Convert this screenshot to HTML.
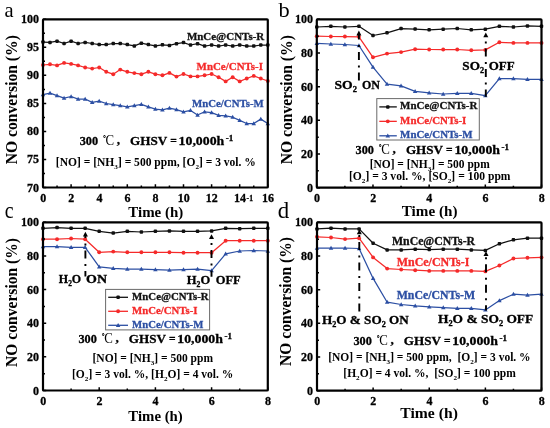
<!DOCTYPE html>
<html><head><meta charset="utf-8"><title>NO conversion figure</title><style>
html,body{margin:0;padding:0;background:#fff;width:550px;height:428px;overflow:hidden}
svg{display:block;filter:blur(0.35px)}
text{font-family:"Liberation Serif", serif;white-space:pre}
</style></head><body>
<svg width="550" height="428" viewBox="0 0 550 428">
<rect width="550" height="428" fill="#fff"/>
<path d="M43.00 42.10 L50.02 42.40 L57.05 41.20 L64.08 43.50 L71.10 41.20 L78.12 43.50 L85.15 42.40 L92.18 43.50 L99.20 44.60 L106.22 44.60 L113.25 43.50 L120.28 43.50 L127.30 44.60 L134.32 45.90 L141.35 43.20 L148.38 44.60 L155.40 45.90 L162.43 44.80 L169.45 45.40 L176.47 43.70 L183.50 42.60 L190.53 45.00 L197.55 43.70 L204.58 46.10 L211.60 45.00 L218.62 46.10 L225.65 45.00 L232.68 46.10 L239.70 45.00 L246.73 46.10 L253.75 46.10 L260.77 45.00 L267.80 45.00" fill="none" stroke="#111111" stroke-width="1.25" stroke-linejoin="round"/>
<rect x="41.25" y="40.35" width="3.50" height="3.50" rx="1.00" fill="#111111"/>
<rect x="48.27" y="40.65" width="3.50" height="3.50" rx="1.00" fill="#111111"/>
<rect x="55.30" y="39.45" width="3.50" height="3.50" rx="1.00" fill="#111111"/>
<rect x="62.33" y="41.75" width="3.50" height="3.50" rx="1.00" fill="#111111"/>
<rect x="69.35" y="39.45" width="3.50" height="3.50" rx="1.00" fill="#111111"/>
<rect x="76.38" y="41.75" width="3.50" height="3.50" rx="1.00" fill="#111111"/>
<rect x="83.40" y="40.65" width="3.50" height="3.50" rx="1.00" fill="#111111"/>
<rect x="90.43" y="41.75" width="3.50" height="3.50" rx="1.00" fill="#111111"/>
<rect x="97.45" y="42.85" width="3.50" height="3.50" rx="1.00" fill="#111111"/>
<rect x="104.47" y="42.85" width="3.50" height="3.50" rx="1.00" fill="#111111"/>
<rect x="111.50" y="41.75" width="3.50" height="3.50" rx="1.00" fill="#111111"/>
<rect x="118.53" y="41.75" width="3.50" height="3.50" rx="1.00" fill="#111111"/>
<rect x="125.55" y="42.85" width="3.50" height="3.50" rx="1.00" fill="#111111"/>
<rect x="132.57" y="44.15" width="3.50" height="3.50" rx="1.00" fill="#111111"/>
<rect x="139.60" y="41.45" width="3.50" height="3.50" rx="1.00" fill="#111111"/>
<rect x="146.62" y="42.85" width="3.50" height="3.50" rx="1.00" fill="#111111"/>
<rect x="153.65" y="44.15" width="3.50" height="3.50" rx="1.00" fill="#111111"/>
<rect x="160.68" y="43.05" width="3.50" height="3.50" rx="1.00" fill="#111111"/>
<rect x="167.70" y="43.65" width="3.50" height="3.50" rx="1.00" fill="#111111"/>
<rect x="174.72" y="41.95" width="3.50" height="3.50" rx="1.00" fill="#111111"/>
<rect x="181.75" y="40.85" width="3.50" height="3.50" rx="1.00" fill="#111111"/>
<rect x="188.78" y="43.25" width="3.50" height="3.50" rx="1.00" fill="#111111"/>
<rect x="195.80" y="41.95" width="3.50" height="3.50" rx="1.00" fill="#111111"/>
<rect x="202.83" y="44.35" width="3.50" height="3.50" rx="1.00" fill="#111111"/>
<rect x="209.85" y="43.25" width="3.50" height="3.50" rx="1.00" fill="#111111"/>
<rect x="216.88" y="44.35" width="3.50" height="3.50" rx="1.00" fill="#111111"/>
<rect x="223.90" y="43.25" width="3.50" height="3.50" rx="1.00" fill="#111111"/>
<rect x="230.93" y="44.35" width="3.50" height="3.50" rx="1.00" fill="#111111"/>
<rect x="237.95" y="43.25" width="3.50" height="3.50" rx="1.00" fill="#111111"/>
<rect x="244.98" y="44.35" width="3.50" height="3.50" rx="1.00" fill="#111111"/>
<rect x="252.00" y="44.35" width="3.50" height="3.50" rx="1.00" fill="#111111"/>
<rect x="259.02" y="43.25" width="3.50" height="3.50" rx="1.00" fill="#111111"/>
<rect x="266.05" y="43.25" width="3.50" height="3.50" rx="1.00" fill="#111111"/>
<path d="M43.00 65.00 L50.02 64.30 L57.05 65.40 L64.08 62.90 L71.10 63.90 L78.12 65.40 L85.15 67.50 L92.18 68.60 L99.20 67.50 L106.22 71.80 L113.25 74.20 L120.28 69.60 L127.30 71.80 L134.32 73.10 L141.35 74.20 L148.38 71.80 L155.40 74.20 L162.43 75.30 L169.45 72.90 L176.47 76.60 L183.50 74.00 L190.53 76.40 L197.55 76.40 L204.58 75.30 L211.60 74.00 L218.62 77.20 L225.65 81.40 L232.68 77.20 L239.70 81.40 L246.73 78.50 L253.75 75.90 L260.77 78.50 L267.80 81.00" fill="none" stroke="#f52a2a" stroke-width="1.25" stroke-linejoin="round"/>
<circle cx="43.00" cy="65.00" r="1.95" fill="#f52a2a"/>
<circle cx="50.02" cy="64.30" r="1.95" fill="#f52a2a"/>
<circle cx="57.05" cy="65.40" r="1.95" fill="#f52a2a"/>
<circle cx="64.08" cy="62.90" r="1.95" fill="#f52a2a"/>
<circle cx="71.10" cy="63.90" r="1.95" fill="#f52a2a"/>
<circle cx="78.12" cy="65.40" r="1.95" fill="#f52a2a"/>
<circle cx="85.15" cy="67.50" r="1.95" fill="#f52a2a"/>
<circle cx="92.18" cy="68.60" r="1.95" fill="#f52a2a"/>
<circle cx="99.20" cy="67.50" r="1.95" fill="#f52a2a"/>
<circle cx="106.22" cy="71.80" r="1.95" fill="#f52a2a"/>
<circle cx="113.25" cy="74.20" r="1.95" fill="#f52a2a"/>
<circle cx="120.28" cy="69.60" r="1.95" fill="#f52a2a"/>
<circle cx="127.30" cy="71.80" r="1.95" fill="#f52a2a"/>
<circle cx="134.32" cy="73.10" r="1.95" fill="#f52a2a"/>
<circle cx="141.35" cy="74.20" r="1.95" fill="#f52a2a"/>
<circle cx="148.38" cy="71.80" r="1.95" fill="#f52a2a"/>
<circle cx="155.40" cy="74.20" r="1.95" fill="#f52a2a"/>
<circle cx="162.43" cy="75.30" r="1.95" fill="#f52a2a"/>
<circle cx="169.45" cy="72.90" r="1.95" fill="#f52a2a"/>
<circle cx="176.47" cy="76.60" r="1.95" fill="#f52a2a"/>
<circle cx="183.50" cy="74.00" r="1.95" fill="#f52a2a"/>
<circle cx="190.53" cy="76.40" r="1.95" fill="#f52a2a"/>
<circle cx="197.55" cy="76.40" r="1.95" fill="#f52a2a"/>
<circle cx="204.58" cy="75.30" r="1.95" fill="#f52a2a"/>
<circle cx="211.60" cy="74.00" r="1.95" fill="#f52a2a"/>
<circle cx="218.62" cy="77.20" r="1.95" fill="#f52a2a"/>
<circle cx="225.65" cy="81.40" r="1.95" fill="#f52a2a"/>
<circle cx="232.68" cy="77.20" r="1.95" fill="#f52a2a"/>
<circle cx="239.70" cy="81.40" r="1.95" fill="#f52a2a"/>
<circle cx="246.73" cy="78.50" r="1.95" fill="#f52a2a"/>
<circle cx="253.75" cy="75.90" r="1.95" fill="#f52a2a"/>
<circle cx="260.77" cy="78.50" r="1.95" fill="#f52a2a"/>
<circle cx="267.80" cy="81.00" r="1.95" fill="#f52a2a"/>
<path d="M43.00 94.60 L50.02 93.20 L57.05 95.70 L64.08 98.10 L71.10 96.50 L78.12 99.20 L85.15 99.00 L92.18 102.40 L99.20 101.20 L106.22 103.50 L113.25 104.60 L120.28 105.70 L127.30 106.80 L134.32 105.70 L141.35 104.30 L148.38 106.80 L155.40 109.20 L162.43 109.80 L169.45 108.20 L176.47 109.60 L183.50 111.80 L190.53 110.40 L197.55 115.00 L204.58 111.80 L211.60 112.70 L218.62 115.30 L225.65 115.90 L232.68 117.20 L239.70 120.40 L246.73 123.50 L253.75 123.50 L260.77 119.10 L267.80 123.50" fill="none" stroke="#2c4fa3" stroke-width="1.25" stroke-linejoin="round"/>
<path d="M40.76 96.26 L43.00 92.26 L45.24 96.26Z" fill="#2c4fa3"/>
<path d="M47.78 94.86 L50.02 90.86 L52.27 94.86Z" fill="#2c4fa3"/>
<path d="M54.81 97.36 L57.05 93.36 L59.29 97.36Z" fill="#2c4fa3"/>
<path d="M61.83 99.76 L64.08 95.76 L66.32 99.76Z" fill="#2c4fa3"/>
<path d="M68.86 98.16 L71.10 94.16 L73.34 98.16Z" fill="#2c4fa3"/>
<path d="M75.88 100.86 L78.12 96.86 L80.37 100.86Z" fill="#2c4fa3"/>
<path d="M82.91 100.66 L85.15 96.66 L87.39 100.66Z" fill="#2c4fa3"/>
<path d="M89.93 104.06 L92.18 100.06 L94.42 104.06Z" fill="#2c4fa3"/>
<path d="M96.96 102.86 L99.20 98.86 L101.44 102.86Z" fill="#2c4fa3"/>
<path d="M103.98 105.16 L106.22 101.16 L108.47 105.16Z" fill="#2c4fa3"/>
<path d="M111.01 106.26 L113.25 102.26 L115.49 106.26Z" fill="#2c4fa3"/>
<path d="M118.03 107.36 L120.28 103.36 L122.52 107.36Z" fill="#2c4fa3"/>
<path d="M125.06 108.46 L127.30 104.46 L129.54 108.46Z" fill="#2c4fa3"/>
<path d="M132.08 107.36 L134.32 103.36 L136.57 107.36Z" fill="#2c4fa3"/>
<path d="M139.11 105.96 L141.35 101.96 L143.59 105.96Z" fill="#2c4fa3"/>
<path d="M146.13 108.46 L148.38 104.46 L150.62 108.46Z" fill="#2c4fa3"/>
<path d="M153.16 110.86 L155.40 106.86 L157.64 110.86Z" fill="#2c4fa3"/>
<path d="M160.18 111.46 L162.43 107.46 L164.67 111.46Z" fill="#2c4fa3"/>
<path d="M167.21 109.86 L169.45 105.86 L171.69 109.86Z" fill="#2c4fa3"/>
<path d="M174.23 111.26 L176.47 107.26 L178.72 111.26Z" fill="#2c4fa3"/>
<path d="M181.26 113.46 L183.50 109.46 L185.74 113.46Z" fill="#2c4fa3"/>
<path d="M188.28 112.06 L190.53 108.06 L192.77 112.06Z" fill="#2c4fa3"/>
<path d="M195.31 116.66 L197.55 112.66 L199.79 116.66Z" fill="#2c4fa3"/>
<path d="M202.33 113.46 L204.58 109.46 L206.82 113.46Z" fill="#2c4fa3"/>
<path d="M209.36 114.36 L211.60 110.36 L213.84 114.36Z" fill="#2c4fa3"/>
<path d="M216.38 116.96 L218.62 112.96 L220.87 116.96Z" fill="#2c4fa3"/>
<path d="M223.41 117.56 L225.65 113.56 L227.89 117.56Z" fill="#2c4fa3"/>
<path d="M230.43 118.86 L232.68 114.86 L234.92 118.86Z" fill="#2c4fa3"/>
<path d="M237.46 122.06 L239.70 118.06 L241.94 122.06Z" fill="#2c4fa3"/>
<path d="M244.48 125.16 L246.73 121.16 L248.97 125.16Z" fill="#2c4fa3"/>
<path d="M251.51 125.16 L253.75 121.16 L255.99 125.16Z" fill="#2c4fa3"/>
<path d="M258.53 120.76 L260.77 116.76 L263.02 120.76Z" fill="#2c4fa3"/>
<path d="M265.56 125.16 L267.80 121.16 L270.04 125.16Z" fill="#2c4fa3"/>
<path d="M316.80 27.00 L330.84 26.30 L344.89 27.00 L358.93 26.30 L372.98 35.50 L387.02 32.80 L401.06 28.60 L415.11 29.10 L429.15 29.80 L443.19 29.20 L457.24 28.50 L471.28 29.80 L485.32 29.20 L499.37 26.30 L513.41 27.00 L527.46 25.90 L541.50 26.30" fill="none" stroke="#111111" stroke-width="1.25" stroke-linejoin="round"/>
<rect x="315.05" y="25.25" width="3.50" height="3.50" rx="1.00" fill="#111111"/>
<rect x="329.09" y="24.55" width="3.50" height="3.50" rx="1.00" fill="#111111"/>
<rect x="343.14" y="25.25" width="3.50" height="3.50" rx="1.00" fill="#111111"/>
<rect x="357.18" y="24.55" width="3.50" height="3.50" rx="1.00" fill="#111111"/>
<rect x="371.23" y="33.75" width="3.50" height="3.50" rx="1.00" fill="#111111"/>
<rect x="385.27" y="31.05" width="3.50" height="3.50" rx="1.00" fill="#111111"/>
<rect x="399.31" y="26.85" width="3.50" height="3.50" rx="1.00" fill="#111111"/>
<rect x="413.36" y="27.35" width="3.50" height="3.50" rx="1.00" fill="#111111"/>
<rect x="427.40" y="28.05" width="3.50" height="3.50" rx="1.00" fill="#111111"/>
<rect x="441.44" y="27.45" width="3.50" height="3.50" rx="1.00" fill="#111111"/>
<rect x="455.49" y="26.75" width="3.50" height="3.50" rx="1.00" fill="#111111"/>
<rect x="469.53" y="28.05" width="3.50" height="3.50" rx="1.00" fill="#111111"/>
<rect x="483.57" y="27.45" width="3.50" height="3.50" rx="1.00" fill="#111111"/>
<rect x="497.62" y="24.55" width="3.50" height="3.50" rx="1.00" fill="#111111"/>
<rect x="511.66" y="25.25" width="3.50" height="3.50" rx="1.00" fill="#111111"/>
<rect x="525.71" y="24.15" width="3.50" height="3.50" rx="1.00" fill="#111111"/>
<rect x="539.75" y="24.55" width="3.50" height="3.50" rx="1.00" fill="#111111"/>
<path d="M316.80 36.20 L330.84 36.50 L344.89 36.50 L358.93 36.80 L372.98 57.30 L387.02 53.60 L401.06 52.10 L415.11 49.20 L429.15 49.50 L443.19 49.50 L457.24 49.50 L471.28 50.30 L485.32 49.90 L499.37 42.30 L513.41 42.90 L527.46 42.90 L541.50 42.90" fill="none" stroke="#f52a2a" stroke-width="1.25" stroke-linejoin="round"/>
<circle cx="316.80" cy="36.20" r="1.95" fill="#f52a2a"/>
<circle cx="330.84" cy="36.50" r="1.95" fill="#f52a2a"/>
<circle cx="344.89" cy="36.50" r="1.95" fill="#f52a2a"/>
<circle cx="358.93" cy="36.80" r="1.95" fill="#f52a2a"/>
<circle cx="372.98" cy="57.30" r="1.95" fill="#f52a2a"/>
<circle cx="387.02" cy="53.60" r="1.95" fill="#f52a2a"/>
<circle cx="401.06" cy="52.10" r="1.95" fill="#f52a2a"/>
<circle cx="415.11" cy="49.20" r="1.95" fill="#f52a2a"/>
<circle cx="429.15" cy="49.50" r="1.95" fill="#f52a2a"/>
<circle cx="443.19" cy="49.50" r="1.95" fill="#f52a2a"/>
<circle cx="457.24" cy="49.50" r="1.95" fill="#f52a2a"/>
<circle cx="471.28" cy="50.30" r="1.95" fill="#f52a2a"/>
<circle cx="485.32" cy="49.90" r="1.95" fill="#f52a2a"/>
<circle cx="499.37" cy="42.30" r="1.95" fill="#f52a2a"/>
<circle cx="513.41" cy="42.90" r="1.95" fill="#f52a2a"/>
<circle cx="527.46" cy="42.90" r="1.95" fill="#f52a2a"/>
<circle cx="541.50" cy="42.90" r="1.95" fill="#f52a2a"/>
<path d="M316.80 43.40 L330.84 44.00 L344.89 44.50 L358.93 45.50 L372.98 67.10 L387.02 84.20 L401.06 85.80 L415.11 91.40 L429.15 92.90 L443.19 94.00 L457.24 93.30 L471.28 93.30 L485.32 95.60 L499.37 78.70 L513.41 78.70 L527.46 79.40 L541.50 79.40" fill="none" stroke="#2c4fa3" stroke-width="1.25" stroke-linejoin="round"/>
<path d="M314.56 45.06 L316.80 41.06 L319.04 45.06Z" fill="#2c4fa3"/>
<path d="M328.60 45.66 L330.84 41.66 L333.09 45.66Z" fill="#2c4fa3"/>
<path d="M342.64 46.16 L344.89 42.16 L347.13 46.16Z" fill="#2c4fa3"/>
<path d="M356.69 47.16 L358.93 43.16 L361.17 47.16Z" fill="#2c4fa3"/>
<path d="M370.73 68.76 L372.98 64.76 L375.22 68.76Z" fill="#2c4fa3"/>
<path d="M384.78 85.86 L387.02 81.86 L389.26 85.86Z" fill="#2c4fa3"/>
<path d="M398.82 87.46 L401.06 83.46 L403.31 87.46Z" fill="#2c4fa3"/>
<path d="M412.86 93.06 L415.11 89.06 L417.35 93.06Z" fill="#2c4fa3"/>
<path d="M426.91 94.56 L429.15 90.56 L431.39 94.56Z" fill="#2c4fa3"/>
<path d="M440.95 95.66 L443.19 91.66 L445.44 95.66Z" fill="#2c4fa3"/>
<path d="M455.00 94.96 L457.24 90.96 L459.48 94.96Z" fill="#2c4fa3"/>
<path d="M469.04 94.96 L471.28 90.96 L473.52 94.96Z" fill="#2c4fa3"/>
<path d="M483.08 97.26 L485.32 93.26 L487.57 97.26Z" fill="#2c4fa3"/>
<path d="M497.13 80.36 L499.37 76.36 L501.61 80.36Z" fill="#2c4fa3"/>
<path d="M511.17 80.36 L513.41 76.36 L515.65 80.36Z" fill="#2c4fa3"/>
<path d="M525.21 81.06 L527.46 77.06 L529.70 81.06Z" fill="#2c4fa3"/>
<path d="M539.26 81.06 L541.50 77.06 L543.74 81.06Z" fill="#2c4fa3"/>
<path d="M43.00 228.30 L57.05 227.60 L71.10 228.30 L85.15 228.30 L99.20 231.30 L113.25 233.10 L127.30 231.30 L141.35 232.00 L155.40 231.30 L169.45 230.90 L183.50 231.30 L197.55 231.30 L211.60 230.90 L225.65 228.30 L239.70 228.70 L253.75 228.30 L267.80 228.30" fill="none" stroke="#111111" stroke-width="1.25" stroke-linejoin="round"/>
<rect x="41.25" y="226.55" width="3.50" height="3.50" rx="1.00" fill="#111111"/>
<rect x="55.30" y="225.85" width="3.50" height="3.50" rx="1.00" fill="#111111"/>
<rect x="69.35" y="226.55" width="3.50" height="3.50" rx="1.00" fill="#111111"/>
<rect x="83.40" y="226.55" width="3.50" height="3.50" rx="1.00" fill="#111111"/>
<rect x="97.45" y="229.55" width="3.50" height="3.50" rx="1.00" fill="#111111"/>
<rect x="111.50" y="231.35" width="3.50" height="3.50" rx="1.00" fill="#111111"/>
<rect x="125.55" y="229.55" width="3.50" height="3.50" rx="1.00" fill="#111111"/>
<rect x="139.60" y="230.25" width="3.50" height="3.50" rx="1.00" fill="#111111"/>
<rect x="153.65" y="229.55" width="3.50" height="3.50" rx="1.00" fill="#111111"/>
<rect x="167.70" y="229.15" width="3.50" height="3.50" rx="1.00" fill="#111111"/>
<rect x="181.75" y="229.55" width="3.50" height="3.50" rx="1.00" fill="#111111"/>
<rect x="195.80" y="229.55" width="3.50" height="3.50" rx="1.00" fill="#111111"/>
<rect x="209.85" y="229.15" width="3.50" height="3.50" rx="1.00" fill="#111111"/>
<rect x="223.90" y="226.55" width="3.50" height="3.50" rx="1.00" fill="#111111"/>
<rect x="237.95" y="226.95" width="3.50" height="3.50" rx="1.00" fill="#111111"/>
<rect x="252.00" y="226.55" width="3.50" height="3.50" rx="1.00" fill="#111111"/>
<rect x="266.05" y="226.55" width="3.50" height="3.50" rx="1.00" fill="#111111"/>
<path d="M43.00 239.20 L57.05 239.20 L71.10 238.50 L85.15 239.20 L99.20 252.30 L113.25 251.60 L127.30 252.30 L141.35 252.30 L155.40 252.30 L169.45 252.30 L183.50 252.70 L197.55 252.70 L211.60 252.70 L225.65 240.70 L239.70 240.70 L253.75 240.70 L267.80 240.70" fill="none" stroke="#f52a2a" stroke-width="1.25" stroke-linejoin="round"/>
<circle cx="43.00" cy="239.20" r="1.95" fill="#f52a2a"/>
<circle cx="57.05" cy="239.20" r="1.95" fill="#f52a2a"/>
<circle cx="71.10" cy="238.50" r="1.95" fill="#f52a2a"/>
<circle cx="85.15" cy="239.20" r="1.95" fill="#f52a2a"/>
<circle cx="99.20" cy="252.30" r="1.95" fill="#f52a2a"/>
<circle cx="113.25" cy="251.60" r="1.95" fill="#f52a2a"/>
<circle cx="127.30" cy="252.30" r="1.95" fill="#f52a2a"/>
<circle cx="141.35" cy="252.30" r="1.95" fill="#f52a2a"/>
<circle cx="155.40" cy="252.30" r="1.95" fill="#f52a2a"/>
<circle cx="169.45" cy="252.30" r="1.95" fill="#f52a2a"/>
<circle cx="183.50" cy="252.70" r="1.95" fill="#f52a2a"/>
<circle cx="197.55" cy="252.70" r="1.95" fill="#f52a2a"/>
<circle cx="211.60" cy="252.70" r="1.95" fill="#f52a2a"/>
<circle cx="225.65" cy="240.70" r="1.95" fill="#f52a2a"/>
<circle cx="239.70" cy="240.70" r="1.95" fill="#f52a2a"/>
<circle cx="253.75" cy="240.70" r="1.95" fill="#f52a2a"/>
<circle cx="267.80" cy="240.70" r="1.95" fill="#f52a2a"/>
<path d="M43.00 246.60 L57.05 246.60 L71.10 247.30 L85.15 247.30 L99.20 266.90 L113.25 268.40 L127.30 269.10 L141.35 269.10 L155.40 269.70 L169.45 270.20 L183.50 269.70 L197.55 269.10 L211.60 270.60 L225.65 253.80 L239.70 251.00 L253.75 250.50 L267.80 251.00" fill="none" stroke="#2c4fa3" stroke-width="1.25" stroke-linejoin="round"/>
<path d="M40.76 248.26 L43.00 244.26 L45.24 248.26Z" fill="#2c4fa3"/>
<path d="M54.81 248.26 L57.05 244.26 L59.29 248.26Z" fill="#2c4fa3"/>
<path d="M68.86 248.96 L71.10 244.96 L73.34 248.96Z" fill="#2c4fa3"/>
<path d="M82.91 248.96 L85.15 244.96 L87.39 248.96Z" fill="#2c4fa3"/>
<path d="M96.96 268.56 L99.20 264.56 L101.44 268.56Z" fill="#2c4fa3"/>
<path d="M111.01 270.06 L113.25 266.06 L115.49 270.06Z" fill="#2c4fa3"/>
<path d="M125.06 270.76 L127.30 266.76 L129.54 270.76Z" fill="#2c4fa3"/>
<path d="M139.11 270.76 L141.35 266.76 L143.59 270.76Z" fill="#2c4fa3"/>
<path d="M153.16 271.36 L155.40 267.36 L157.64 271.36Z" fill="#2c4fa3"/>
<path d="M167.21 271.86 L169.45 267.86 L171.69 271.86Z" fill="#2c4fa3"/>
<path d="M181.26 271.36 L183.50 267.36 L185.74 271.36Z" fill="#2c4fa3"/>
<path d="M195.31 270.76 L197.55 266.76 L199.79 270.76Z" fill="#2c4fa3"/>
<path d="M209.36 272.26 L211.60 268.26 L213.84 272.26Z" fill="#2c4fa3"/>
<path d="M223.41 255.46 L225.65 251.46 L227.89 255.46Z" fill="#2c4fa3"/>
<path d="M237.46 252.66 L239.70 248.66 L241.94 252.66Z" fill="#2c4fa3"/>
<path d="M251.51 252.16 L253.75 248.16 L255.99 252.16Z" fill="#2c4fa3"/>
<path d="M265.56 252.66 L267.80 248.66 L270.04 252.66Z" fill="#2c4fa3"/>
<path d="M317.00 228.90 L331.03 228.20 L345.06 228.90 L359.09 228.90 L373.12 243.30 L387.16 249.90 L401.19 249.90 L415.22 249.20 L429.25 249.60 L443.28 249.20 L457.31 249.20 L471.34 249.90 L485.38 250.40 L499.41 243.80 L513.44 239.80 L527.47 238.20 L541.50 238.20" fill="none" stroke="#111111" stroke-width="1.25" stroke-linejoin="round"/>
<rect x="315.25" y="227.15" width="3.50" height="3.50" rx="1.00" fill="#111111"/>
<rect x="329.28" y="226.45" width="3.50" height="3.50" rx="1.00" fill="#111111"/>
<rect x="343.31" y="227.15" width="3.50" height="3.50" rx="1.00" fill="#111111"/>
<rect x="357.34" y="227.15" width="3.50" height="3.50" rx="1.00" fill="#111111"/>
<rect x="371.38" y="241.55" width="3.50" height="3.50" rx="1.00" fill="#111111"/>
<rect x="385.41" y="248.15" width="3.50" height="3.50" rx="1.00" fill="#111111"/>
<rect x="399.44" y="248.15" width="3.50" height="3.50" rx="1.00" fill="#111111"/>
<rect x="413.47" y="247.45" width="3.50" height="3.50" rx="1.00" fill="#111111"/>
<rect x="427.50" y="247.85" width="3.50" height="3.50" rx="1.00" fill="#111111"/>
<rect x="441.53" y="247.45" width="3.50" height="3.50" rx="1.00" fill="#111111"/>
<rect x="455.56" y="247.45" width="3.50" height="3.50" rx="1.00" fill="#111111"/>
<rect x="469.59" y="248.15" width="3.50" height="3.50" rx="1.00" fill="#111111"/>
<rect x="483.62" y="248.65" width="3.50" height="3.50" rx="1.00" fill="#111111"/>
<rect x="497.66" y="242.05" width="3.50" height="3.50" rx="1.00" fill="#111111"/>
<rect x="511.69" y="238.05" width="3.50" height="3.50" rx="1.00" fill="#111111"/>
<rect x="525.72" y="236.45" width="3.50" height="3.50" rx="1.00" fill="#111111"/>
<rect x="539.75" y="236.45" width="3.50" height="3.50" rx="1.00" fill="#111111"/>
<path d="M317.00 236.80 L331.03 237.50 L345.06 239.10 L359.09 238.20 L373.12 257.40 L387.16 268.60 L401.19 269.50 L415.22 270.20 L429.25 270.90 L443.28 270.90 L457.31 270.90 L471.34 270.90 L485.38 271.40 L499.41 265.50 L513.44 258.50 L527.47 257.80 L541.50 257.40" fill="none" stroke="#f52a2a" stroke-width="1.25" stroke-linejoin="round"/>
<circle cx="317.00" cy="236.80" r="1.95" fill="#f52a2a"/>
<circle cx="331.03" cy="237.50" r="1.95" fill="#f52a2a"/>
<circle cx="345.06" cy="239.10" r="1.95" fill="#f52a2a"/>
<circle cx="359.09" cy="238.20" r="1.95" fill="#f52a2a"/>
<circle cx="373.12" cy="257.40" r="1.95" fill="#f52a2a"/>
<circle cx="387.16" cy="268.60" r="1.95" fill="#f52a2a"/>
<circle cx="401.19" cy="269.50" r="1.95" fill="#f52a2a"/>
<circle cx="415.22" cy="270.20" r="1.95" fill="#f52a2a"/>
<circle cx="429.25" cy="270.90" r="1.95" fill="#f52a2a"/>
<circle cx="443.28" cy="270.90" r="1.95" fill="#f52a2a"/>
<circle cx="457.31" cy="270.90" r="1.95" fill="#f52a2a"/>
<circle cx="471.34" cy="270.90" r="1.95" fill="#f52a2a"/>
<circle cx="485.38" cy="271.40" r="1.95" fill="#f52a2a"/>
<circle cx="499.41" cy="265.50" r="1.95" fill="#f52a2a"/>
<circle cx="513.44" cy="258.50" r="1.95" fill="#f52a2a"/>
<circle cx="527.47" cy="257.80" r="1.95" fill="#f52a2a"/>
<circle cx="541.50" cy="257.40" r="1.95" fill="#f52a2a"/>
<path d="M317.00 248.00 L331.03 248.00 L345.06 248.00 L359.09 248.50 L373.12 278.40 L387.16 302.20 L401.19 304.50 L415.22 305.90 L429.25 306.90 L443.28 307.60 L457.31 308.30 L471.34 308.30 L485.38 309.90 L499.41 300.60 L513.44 294.20 L527.47 295.20 L541.50 294.20" fill="none" stroke="#2c4fa3" stroke-width="1.25" stroke-linejoin="round"/>
<path d="M314.76 249.66 L317.00 245.66 L319.24 249.66Z" fill="#2c4fa3"/>
<path d="M328.79 249.66 L331.03 245.66 L333.27 249.66Z" fill="#2c4fa3"/>
<path d="M342.82 249.66 L345.06 245.66 L347.31 249.66Z" fill="#2c4fa3"/>
<path d="M356.85 250.16 L359.09 246.16 L361.34 250.16Z" fill="#2c4fa3"/>
<path d="M370.88 280.06 L373.12 276.06 L375.37 280.06Z" fill="#2c4fa3"/>
<path d="M384.91 303.86 L387.16 299.86 L389.40 303.86Z" fill="#2c4fa3"/>
<path d="M398.94 306.16 L401.19 302.16 L403.43 306.16Z" fill="#2c4fa3"/>
<path d="M412.98 307.56 L415.22 303.56 L417.46 307.56Z" fill="#2c4fa3"/>
<path d="M427.01 308.56 L429.25 304.56 L431.49 308.56Z" fill="#2c4fa3"/>
<path d="M441.04 309.26 L443.28 305.26 L445.52 309.26Z" fill="#2c4fa3"/>
<path d="M455.07 309.96 L457.31 305.96 L459.56 309.96Z" fill="#2c4fa3"/>
<path d="M469.10 309.96 L471.34 305.96 L473.59 309.96Z" fill="#2c4fa3"/>
<path d="M483.13 311.56 L485.38 307.56 L487.62 311.56Z" fill="#2c4fa3"/>
<path d="M497.16 302.26 L499.41 298.26 L501.65 302.26Z" fill="#2c4fa3"/>
<path d="M511.19 295.86 L513.44 291.86 L515.68 295.86Z" fill="#2c4fa3"/>
<path d="M525.23 296.86 L527.47 292.86 L529.71 296.86Z" fill="#2c4fa3"/>
<path d="M539.26 295.86 L541.50 291.86 L543.74 295.86Z" fill="#2c4fa3"/>
<path d="M356.40 35.40 L358.90 30.60 L361.40 35.40Z" fill="#000"/>
<path d="M358.90 34.80 V81.50" stroke="#000" stroke-width="1.9" stroke-dasharray="8 5.5 2 5" stroke-dashoffset="3.30"/>
<path d="M483.30 37.20 L485.80 32.40 L488.30 37.20Z" fill="#000"/>
<path d="M485.80 36.60 V96.70" stroke="#000" stroke-width="1.9" stroke-dasharray="8 5.5 2 5" stroke-dashoffset="8.70"/>
<path d="M82.90 236.60 L85.40 231.80 L87.90 236.60Z" fill="#000"/>
<path d="M85.40 236.00 V276.50" stroke="#000" stroke-width="1.9" stroke-dasharray="8 5.5 2 5" stroke-dashoffset="6.00"/>
<path d="M209.00 239.00 L211.50 234.20 L214.00 239.00Z" fill="#000"/>
<path d="M211.50 238.40 V276.70" stroke="#000" stroke-width="1.9" stroke-dasharray="8 5.5 2 5" stroke-dashoffset="8.80"/>
<path d="M356.80 234.20 L359.30 229.40 L361.80 234.20Z" fill="#000"/>
<path d="M359.30 233.60 V312.30" stroke="#000" stroke-width="1.9" stroke-dasharray="8 5.5 2 5" stroke-dashoffset="12.10"/>
<path d="M483.50 256.10 L486.00 251.30 L488.50 256.10Z" fill="#000"/>
<path d="M486.00 255.50 V310.60" stroke="#000" stroke-width="1.9" stroke-dasharray="8 5.5 2 5" stroke-dashoffset="11.80"/>
<path d="M43.00 187.5 V184.30 M57.05 187.5 V185.50 M71.10 187.5 V184.30 M85.15 187.5 V185.50 M99.20 187.5 V184.30 M113.25 187.5 V185.50 M127.30 187.5 V184.30 M141.35 187.5 V185.50 M155.40 187.5 V184.30 M169.45 187.5 V185.50 M183.50 187.5 V184.30 M197.55 187.5 V185.50 M211.60 187.5 V184.30 M225.65 187.5 V185.50 M239.70 187.5 V184.30 M253.75 187.5 V185.50 M267.80 187.5 V184.30 M43 187.50 H46.20 M43 173.48 H45.00 M43 159.47 H46.20 M43 145.45 H45.00 M43 131.43 H46.20 M43 117.42 H45.00 M43 103.40 H46.20 M43 89.38 H45.00 M43 75.37 H46.20 M43 61.35 H45.00 M43 47.33 H46.20 M43 33.32 H45.00 M43 19.30 H46.20" stroke="#000" stroke-width="1.5" fill="none"/>
<rect x="43" y="19.3" width="224.80" height="168.20" rx="0.8" fill="none" stroke="#000" stroke-width="2.2" stroke-linejoin="round"/>
<path d="M316.80 187.7 V184.50 M344.89 187.7 V185.70 M372.98 187.7 V184.50 M401.06 187.7 V185.70 M429.15 187.7 V184.50 M457.24 187.7 V185.70 M485.32 187.7 V184.50 M513.41 187.7 V185.70 M541.50 187.7 V184.50 M316.8 187.70 H320.00 M316.8 170.86 H318.80 M316.8 154.02 H320.00 M316.8 137.18 H318.80 M316.8 120.34 H320.00 M316.8 103.50 H318.80 M316.8 86.66 H320.00 M316.8 69.82 H318.80 M316.8 52.98 H320.00 M316.8 36.14 H318.80 M316.8 19.30 H320.00" stroke="#000" stroke-width="1.5" fill="none"/>
<rect x="316.8" y="19.3" width="224.70" height="168.40" rx="0.8" fill="none" stroke="#000" stroke-width="2.2" stroke-linejoin="round"/>
<path d="M43.00 390.5 V387.30 M71.10 390.5 V388.50 M99.20 390.5 V387.30 M127.30 390.5 V388.50 M155.40 390.5 V387.30 M183.50 390.5 V388.50 M211.60 390.5 V387.30 M239.70 390.5 V388.50 M267.80 390.5 V387.30 M43 390.50 H46.20 M43 373.68 H45.00 M43 356.86 H46.20 M43 340.04 H45.00 M43 323.22 H46.20 M43 306.40 H45.00 M43 289.58 H46.20 M43 272.76 H45.00 M43 255.94 H46.20 M43 239.12 H45.00 M43 222.30 H46.20" stroke="#000" stroke-width="1.5" fill="none"/>
<rect x="43" y="222.3" width="224.80" height="168.20" rx="0.8" fill="none" stroke="#000" stroke-width="2.2" stroke-linejoin="round"/>
<path d="M317.00 390.7 V387.50 M345.06 390.7 V388.70 M373.12 390.7 V387.50 M401.19 390.7 V388.70 M429.25 390.7 V387.50 M457.31 390.7 V388.70 M485.38 390.7 V387.50 M513.44 390.7 V388.70 M541.50 390.7 V387.50 M317 390.70 H320.20 M317 373.86 H319.00 M317 357.02 H320.20 M317 340.18 H319.00 M317 323.34 H320.20 M317 306.50 H319.00 M317 289.66 H320.20 M317 272.82 H319.00 M317 255.98 H320.20 M317 239.14 H319.00 M317 222.30 H320.20" stroke="#000" stroke-width="1.5" fill="none"/>
<rect x="317" y="222.3" width="224.50" height="168.40" rx="0.8" fill="none" stroke="#000" stroke-width="2.2" stroke-linejoin="round"/>
<rect x="376.8" y="98.6" width="102.5" height="41.4" fill="#fff" stroke="#6a6a6a" stroke-width="1"/>
<path d="M379.3 106.90 H396.8" stroke="#111111" stroke-width="1.3"/>
<rect x="386.05" y="105.15" width="3.50" height="3.50" rx="1.00" fill="#111111"/>
<path d="M379.3 121.35 H396.8" stroke="#f52a2a" stroke-width="1.3"/>
<circle cx="387.80" cy="121.35" r="1.95" fill="#f52a2a"/>
<path d="M379.3 135.80 H396.8" stroke="#2c4fa3" stroke-width="1.3"/>
<path d="M385.56 137.46 L387.80 133.46 L390.04 137.46Z" fill="#2c4fa3"/>
<rect x="105.6" y="289.4" width="104.0" height="40.5" fill="#fff" stroke="#6a6a6a" stroke-width="1"/>
<path d="M108.2 297.30 H128.0" stroke="#111111" stroke-width="1.3"/>
<rect x="116.35" y="295.55" width="3.50" height="3.50" rx="1.00" fill="#111111"/>
<path d="M108.2 311.30 H128.0" stroke="#f52a2a" stroke-width="1.3"/>
<circle cx="118.10" cy="311.30" r="1.95" fill="#f52a2a"/>
<path d="M108.2 325.30 H128.0" stroke="#2c4fa3" stroke-width="1.3"/>
<path d="M115.86 326.96 L118.10 322.96 L120.34 326.96Z" fill="#2c4fa3"/>
<text font-size="22" font-weight="normal" fill="#000" transform="translate(4.60,17.30) scale(0.9318,1)">a</text>
<text font-size="22" font-weight="normal" fill="#000" transform="translate(278.40,17.30) scale(1.0182,1)">b</text>
<text font-size="23.5" font-weight="normal" fill="#000" transform="translate(4.80,218.20) scale(0.8431,1)">c</text>
<text font-size="24" font-weight="normal" fill="#000" transform="translate(277.80,218.40) scale(0.9500,1)">d</text>
<text font-size="13.0" font-weight="bold" fill="#000" stroke="#000" stroke-width="0.3" transform="translate(21.00,23.30) scale(0.9231,1)">100</text>
<text font-size="13.0" font-weight="bold" fill="#000" stroke="#000" stroke-width="0.3" transform="translate(27.00,51.33) scale(0.9231,1)">95</text>
<text font-size="13.0" font-weight="bold" fill="#000" stroke="#000" stroke-width="0.3" transform="translate(27.00,79.37) scale(0.9231,1)">90</text>
<text font-size="13.0" font-weight="bold" fill="#000" stroke="#000" stroke-width="0.3" transform="translate(27.00,107.40) scale(0.9231,1)">85</text>
<text font-size="13.0" font-weight="bold" fill="#000" stroke="#000" stroke-width="0.3" transform="translate(27.00,135.43) scale(0.9231,1)">80</text>
<text font-size="13.0" font-weight="bold" fill="#000" stroke="#000" stroke-width="0.3" transform="translate(27.00,163.47) scale(0.9231,1)">75</text>
<text font-size="13.0" font-weight="bold" fill="#000" stroke="#000" stroke-width="0.3" transform="translate(27.00,191.50) scale(0.9231,1)">70</text>
<text font-size="13.0" font-weight="bold" fill="#000" stroke="#000" stroke-width="0.3" transform="translate(295.00,23.30) scale(0.9231,1)">100</text>
<text font-size="13.0" font-weight="bold" fill="#000" stroke="#000" stroke-width="0.3" transform="translate(301.00,56.98) scale(0.9231,1)">80</text>
<text font-size="13.0" font-weight="bold" fill="#000" stroke="#000" stroke-width="0.3" transform="translate(301.00,90.66) scale(0.9231,1)">60</text>
<text font-size="13.0" font-weight="bold" fill="#000" stroke="#000" stroke-width="0.3" transform="translate(301.00,124.34) scale(0.9231,1)">40</text>
<text font-size="13.0" font-weight="bold" fill="#000" stroke="#000" stroke-width="0.3" transform="translate(301.00,158.02) scale(0.9231,1)">20</text>
<text font-size="13.0" font-weight="bold" fill="#000" stroke="#000" stroke-width="0.3" transform="translate(307.00,191.70) scale(0.9231,1)">0</text>
<text font-size="13.0" font-weight="bold" fill="#000" stroke="#000" stroke-width="0.3" transform="translate(21.00,226.30) scale(0.9231,1)">100</text>
<text font-size="13.0" font-weight="bold" fill="#000" stroke="#000" stroke-width="0.3" transform="translate(27.00,259.94) scale(0.9231,1)">80</text>
<text font-size="13.0" font-weight="bold" fill="#000" stroke="#000" stroke-width="0.3" transform="translate(27.00,293.58) scale(0.9231,1)">60</text>
<text font-size="13.0" font-weight="bold" fill="#000" stroke="#000" stroke-width="0.3" transform="translate(27.00,327.22) scale(0.9231,1)">40</text>
<text font-size="13.0" font-weight="bold" fill="#000" stroke="#000" stroke-width="0.3" transform="translate(27.00,360.86) scale(0.9231,1)">20</text>
<text font-size="13.0" font-weight="bold" fill="#000" stroke="#000" stroke-width="0.3" transform="translate(33.00,394.50) scale(0.9231,1)">0</text>
<text font-size="13.0" font-weight="bold" fill="#000" stroke="#000" stroke-width="0.3" transform="translate(295.00,226.30) scale(0.9231,1)">100</text>
<text font-size="13.0" font-weight="bold" fill="#000" stroke="#000" stroke-width="0.3" transform="translate(301.00,259.98) scale(0.9231,1)">80</text>
<text font-size="13.0" font-weight="bold" fill="#000" stroke="#000" stroke-width="0.3" transform="translate(301.00,293.66) scale(0.9231,1)">60</text>
<text font-size="13.0" font-weight="bold" fill="#000" stroke="#000" stroke-width="0.3" transform="translate(301.00,327.34) scale(0.9231,1)">40</text>
<text font-size="13.0" font-weight="bold" fill="#000" stroke="#000" stroke-width="0.3" transform="translate(301.00,361.02) scale(0.9231,1)">20</text>
<text font-size="13.0" font-weight="bold" fill="#000" stroke="#000" stroke-width="0.3" transform="translate(307.00,394.70) scale(0.9231,1)">0</text>
<text font-size="13.0" font-weight="bold" fill="#000" stroke="#000" stroke-width="0.3" transform="translate(40.20,201.80) scale(0.9231,1)">0</text>
<text font-size="13.0" font-weight="bold" fill="#000" stroke="#000" stroke-width="0.3" transform="translate(68.30,201.80) scale(0.9231,1)">2</text>
<text font-size="13.0" font-weight="bold" fill="#000" stroke="#000" stroke-width="0.3" transform="translate(96.40,201.80) scale(0.9231,1)">4</text>
<text font-size="13.0" font-weight="bold" fill="#000" stroke="#000" stroke-width="0.3" transform="translate(124.50,201.80) scale(0.9231,1)">6</text>
<text font-size="13.0" font-weight="bold" fill="#000" stroke="#000" stroke-width="0.3" transform="translate(152.60,201.80) scale(0.9231,1)">8</text>
<text font-size="13.0" font-weight="bold" fill="#000" stroke="#000" stroke-width="0.3" transform="translate(177.70,201.80) scale(0.9231,1)">10</text>
<text font-size="13.0" font-weight="bold" fill="#000" stroke="#000" stroke-width="0.3" transform="translate(205.80,201.80) scale(0.9231,1)">12</text>
<text font-size="13.0" font-weight="bold" fill="#000" stroke="#000" stroke-width="0.3" transform="translate(233.90,201.80) scale(0.9231,1)">14</text>
<text font-size="13.0" font-weight="bold" fill="#000" stroke="#000" stroke-width="0.3" transform="translate(262.00,201.80) scale(0.9231,1)">16</text>
<text font-size="13.0" font-weight="bold" fill="#000" stroke="#000" stroke-width="0.3" transform="translate(314.00,201.80) scale(0.9231,1)">0</text>
<text font-size="13.0" font-weight="bold" fill="#000" stroke="#000" stroke-width="0.3" transform="translate(370.18,201.80) scale(0.9231,1)">2</text>
<text font-size="13.0" font-weight="bold" fill="#000" stroke="#000" stroke-width="0.3" transform="translate(426.35,201.80) scale(0.9231,1)">4</text>
<text font-size="13.0" font-weight="bold" fill="#000" stroke="#000" stroke-width="0.3" transform="translate(482.52,201.80) scale(0.9231,1)">6</text>
<text font-size="13.0" font-weight="bold" fill="#000" stroke="#000" stroke-width="0.3" transform="translate(538.70,201.80) scale(0.9231,1)">8</text>
<text font-size="13.0" font-weight="bold" fill="#000" stroke="#000" stroke-width="0.3" transform="translate(40.20,404.50) scale(0.9231,1)">0</text>
<text font-size="13.0" font-weight="bold" fill="#000" stroke="#000" stroke-width="0.3" transform="translate(96.40,404.50) scale(0.9231,1)">2</text>
<text font-size="13.0" font-weight="bold" fill="#000" stroke="#000" stroke-width="0.3" transform="translate(152.60,404.50) scale(0.9231,1)">4</text>
<text font-size="13.0" font-weight="bold" fill="#000" stroke="#000" stroke-width="0.3" transform="translate(208.80,404.50) scale(0.9231,1)">6</text>
<text font-size="13.0" font-weight="bold" fill="#000" stroke="#000" stroke-width="0.3" transform="translate(265.00,404.50) scale(0.9231,1)">8</text>
<text font-size="13.0" font-weight="bold" fill="#000" stroke="#000" stroke-width="0.3" transform="translate(314.20,404.50) scale(0.9231,1)">0</text>
<text font-size="13.0" font-weight="bold" fill="#000" stroke="#000" stroke-width="0.3" transform="translate(370.32,404.50) scale(0.9231,1)">2</text>
<text font-size="13.0" font-weight="bold" fill="#000" stroke="#000" stroke-width="0.3" transform="translate(426.45,404.50) scale(0.9231,1)">4</text>
<text font-size="13.0" font-weight="bold" fill="#000" stroke="#000" stroke-width="0.3" transform="translate(482.57,404.50) scale(0.9231,1)">6</text>
<text font-size="13.0" font-weight="bold" fill="#000" stroke="#000" stroke-width="0.3" transform="translate(538.70,404.50) scale(0.9231,1)">8</text>
<text font-size="9" font-weight="bold" fill="#000" stroke="#000" stroke-width="0.3" transform="translate(246.60,201.00) scale(0.8533,1)">-1</text>
<text font-size="15" font-weight="bold" fill="#000" transform="translate(128.30,216.90) scale(0.9974,1)">Time (h)</text>
<text font-size="15" font-weight="bold" fill="#000" transform="translate(401.80,216.20) scale(1.0101,1)">Time (h)</text>
<text font-size="15" font-weight="bold" fill="#000" transform="translate(128.30,421.20) scale(0.9884,1)">Time (h)</text>
<text font-size="15" font-weight="bold" fill="#000" transform="translate(400.30,418.10) scale(1.0446,1)">Time (h)</text>
<text font-size="16" font-weight="bold" fill="#000" transform="translate(17.10,164.30) rotate(-90) scale(0.9763,1)">NO conversion (%)</text>
<text font-size="16" font-weight="bold" fill="#000" transform="translate(291.70,164.30) rotate(-90) scale(0.9763,1)">NO conversion (%)</text>
<text font-size="16" font-weight="bold" fill="#000" transform="translate(17.10,366.90) rotate(-90) scale(0.9748,1)">NO conversion (%)</text>
<text font-size="16" font-weight="bold" fill="#000" transform="translate(291.40,366.00) rotate(-90) scale(0.9748,1)">NO conversion (%)</text>
<text font-size="11" font-weight="bold" fill="#111111" stroke="#111111" stroke-width="0.3" transform="translate(186.90,39.80) scale(0.9965,1)">MnCe@CNTs-R</text>
<text font-size="11" font-weight="bold" fill="#f52a2a" stroke="#f52a2a" stroke-width="0.3" transform="translate(196.60,70.30) scale(0.9936,1)">MnCe/CNTs-I</text>
<text font-size="11" font-weight="bold" fill="#2c4fa3" stroke="#2c4fa3" stroke-width="0.3" transform="translate(192.00,106.60) scale(0.9844,1)">MnCe/CNTs-M</text>
<text font-size="11.5" font-weight="bold" fill="#111111" stroke="#111111" stroke-width="0.3" transform="translate(392.00,244.60) scale(1.0246,1)">MnCe@CNTs-R</text>
<text font-size="11.5" font-weight="bold" fill="#f52a2a" stroke="#f52a2a" stroke-width="0.3" transform="translate(396.70,265.70) scale(1.0407,1)">MnCe/CNTs-I</text>
<text font-size="11.5" font-weight="bold" fill="#2c4fa3" stroke="#2c4fa3" stroke-width="0.3" transform="translate(396.70,298.90) scale(1.0295,1)">MnCe/CNTs-M</text>
<text font-size="12.5" font-weight="bold" fill="#000" stroke="#000" stroke-width="0.3" transform="translate(79.70,145.40) scale(0.9813,1)">300</text>
<text font-size="7.5" font-weight="bold" fill="#000" stroke="#000" stroke-width="0.3" transform="translate(103.20,140.80) scale(0.8333,1)">°</text>
<text font-size="13.8" font-weight="normal" fill="#000" transform="translate(105.50,145.40) scale(0.9345,1)">C</text>
<text font-size="13" font-weight="bold" fill="#000" stroke="#000" stroke-width="0.3" transform="translate(116.70,143.80) scale(1.0154,1)">,</text>
<text font-size="13" font-weight="bold" fill="#000" stroke="#000" stroke-width="0.3" transform="translate(130.10,145.40) scale(1.0070,1)">GHSV</text>
<text font-size="13" font-weight="bold" fill="#000" stroke="#000" stroke-width="0.3" transform="translate(170.20,145.40) scale(0.8893,1)">=</text>
<text font-size="13.3" font-weight="bold" fill="#000" stroke="#000" stroke-width="0.3" transform="translate(178.60,145.40) scale(1.0394,1)">10,000h</text>
<text font-size="8.2" font-weight="bold" fill="#000" stroke="#000" stroke-width="0.3" transform="translate(225.70,141.10) scale(1.0984,1)">-1</text>
<text font-size="12.5" font-weight="bold" fill="#000" stroke="#000" stroke-width="0.3" transform="translate(355.50,154.30) scale(0.9813,1)">300</text>
<text font-size="7.5" font-weight="bold" fill="#000" stroke="#000" stroke-width="0.3" transform="translate(379.00,149.70) scale(0.8333,1)">°</text>
<text font-size="13.8" font-weight="normal" fill="#000" transform="translate(381.30,154.30) scale(0.9345,1)">C</text>
<text font-size="13" font-weight="bold" fill="#000" stroke="#000" stroke-width="0.3" transform="translate(392.50,152.70) scale(1.0154,1)">,</text>
<text font-size="13" font-weight="bold" fill="#000" stroke="#000" stroke-width="0.3" transform="translate(405.90,154.30) scale(1.0070,1)">GHSV</text>
<text font-size="13" font-weight="bold" fill="#000" stroke="#000" stroke-width="0.3" transform="translate(446.00,154.30) scale(0.8893,1)">=</text>
<text font-size="13.3" font-weight="bold" fill="#000" stroke="#000" stroke-width="0.3" transform="translate(454.40,154.30) scale(1.0394,1)">10,000h</text>
<text font-size="8.2" font-weight="bold" fill="#000" stroke="#000" stroke-width="0.3" transform="translate(501.50,150.00) scale(1.0984,1)">-1</text>
<text font-size="12.5" font-weight="bold" fill="#000" stroke="#000" stroke-width="0.3" transform="translate(78.40,343.10) scale(0.9813,1)">300</text>
<text font-size="7.5" font-weight="bold" fill="#000" stroke="#000" stroke-width="0.3" transform="translate(101.90,338.50) scale(0.8333,1)">°</text>
<text font-size="13.8" font-weight="normal" fill="#000" transform="translate(104.20,343.10) scale(0.9345,1)">C</text>
<text font-size="13" font-weight="bold" fill="#000" stroke="#000" stroke-width="0.3" transform="translate(115.40,341.50) scale(1.0154,1)">,</text>
<text font-size="13" font-weight="bold" fill="#000" stroke="#000" stroke-width="0.3" transform="translate(128.80,343.10) scale(1.0070,1)">GHSV</text>
<text font-size="13" font-weight="bold" fill="#000" stroke="#000" stroke-width="0.3" transform="translate(168.90,343.10) scale(0.8893,1)">=</text>
<text font-size="13.3" font-weight="bold" fill="#000" stroke="#000" stroke-width="0.3" transform="translate(177.30,343.10) scale(1.0394,1)">10,000h</text>
<text font-size="8.2" font-weight="bold" fill="#000" stroke="#000" stroke-width="0.3" transform="translate(224.40,338.80) scale(1.0984,1)">-1</text>
<text font-size="12.5" font-weight="bold" fill="#000" stroke="#000" stroke-width="0.3" transform="translate(353.40,345.10) scale(0.9813,1)">300</text>
<text font-size="7.5" font-weight="bold" fill="#000" stroke="#000" stroke-width="0.3" transform="translate(376.90,340.50) scale(0.8333,1)">°</text>
<text font-size="13.8" font-weight="normal" fill="#000" transform="translate(379.20,345.10) scale(0.9345,1)">C</text>
<text font-size="13" font-weight="bold" fill="#000" stroke="#000" stroke-width="0.3" transform="translate(390.40,343.50) scale(1.0154,1)">,</text>
<text font-size="13" font-weight="bold" fill="#000" stroke="#000" stroke-width="0.3" transform="translate(403.80,345.10) scale(1.0070,1)">GHSV</text>
<text font-size="13" font-weight="bold" fill="#000" stroke="#000" stroke-width="0.3" transform="translate(443.90,345.10) scale(0.8893,1)">=</text>
<text font-size="13.3" font-weight="bold" fill="#000" stroke="#000" stroke-width="0.3" transform="translate(452.30,345.10) scale(1.0394,1)">10,000h</text>
<text font-size="8.2" font-weight="bold" fill="#000" stroke="#000" stroke-width="0.3" transform="translate(499.40,340.80) scale(1.0984,1)">-1</text>
<text font-size="11.5" font-weight="bold" fill="#000" transform="translate(55.80,165.60) scale(1.0056,1)">[NO] = [NH<tspan font-size="7.13" baseline-shift="-2.99">3</tspan>] = 500 ppm, [O<tspan font-size="7.13" baseline-shift="-2.99">2</tspan>] = 3 vol. %</text>
<text font-size="11.5" font-weight="bold" fill="#000" transform="translate(369.70,167.90) scale(0.9967,1)">[NO] = [NH<tspan font-size="7.13" baseline-shift="-2.99">3</tspan>] = 500 ppm</text>
<text font-size="11.5" font-weight="bold" fill="#000" transform="translate(348.90,180.30) scale(1.0102,1)">[O<tspan font-size="7.13" baseline-shift="-2.99">2</tspan>] = 3 vol. %, [SO<tspan font-size="7.13" baseline-shift="-2.99">2</tspan>] = 100 ppm</text>
<text font-size="11.5" font-weight="bold" fill="#000" transform="translate(92.50,362.20) scale(1.0000,1)">[NO] = [NH<tspan font-size="7.13" baseline-shift="-2.99">3</tspan>] = 500 ppm</text>
<text font-size="11.5" font-weight="bold" fill="#000" transform="translate(72.00,377.60) scale(1.0044,1)">[O<tspan font-size="7.13" baseline-shift="-2.99">2</tspan>] = 3 vol. %, [H<tspan font-size="7.13" baseline-shift="-2.99">2</tspan>O] = 4 vol. %</text>
<text font-size="11.5" font-weight="bold" fill="#000" transform="translate(328.20,361.10) scale(1.0027,1)">[NO] = [NH<tspan font-size="7.13" baseline-shift="-2.99">3</tspan>] = 500 ppm,  [O<tspan font-size="7.13" baseline-shift="-2.99">2</tspan>] = 3 vol. %</text>
<text font-size="11.5" font-weight="bold" fill="#000" transform="translate(343.30,377.10) scale(1.0041,1)">[H<tspan font-size="7.13" baseline-shift="-2.99">2</tspan>O] = 4 vol. %,  [SO<tspan font-size="7.13" baseline-shift="-2.99">2</tspan>] = 100 ppm</text>
<text font-size="12.5" font-weight="bold" fill="#000" stroke="#000" stroke-width="0.3" transform="translate(334.50,88.80) scale(1.0942,1)">SO<tspan font-size="7.75" baseline-shift="-3.25">2</tspan></text>
<text font-size="12.5" font-weight="bold" fill="#000" stroke="#000" stroke-width="0.3" transform="translate(362.00,88.80) scale(0.9600,1)">ON</text>
<text font-size="12.5" font-weight="bold" fill="#000" stroke="#000" stroke-width="0.3" transform="translate(462.30,70.40) scale(1.0553,1)">SO<tspan font-size="7.75" baseline-shift="-3.25">2</tspan></text>
<text font-size="12.5" font-weight="bold" fill="#000" stroke="#000" stroke-width="0.3" transform="translate(488.70,70.40) scale(1.0400,1)">OFF</text>
<text font-size="12.5" font-weight="bold" fill="#000" stroke="#000" stroke-width="0.3" transform="translate(58.80,283.40) scale(0.9596,1)">H<tspan font-size="7.75" baseline-shift="-3.25">2</tspan>O</text>
<text font-size="12.5" font-weight="bold" fill="#000" stroke="#000" stroke-width="0.3" transform="translate(86.00,283.40) scale(1.1200,1)">ON</text>
<text font-size="12.5" font-weight="bold" fill="#000" stroke="#000" stroke-width="0.3" transform="translate(186.80,284.00) scale(1.0067,1)">H<tspan font-size="7.75" baseline-shift="-3.25">2</tspan>O</text>
<text font-size="12.5" font-weight="bold" fill="#000" stroke="#000" stroke-width="0.3" transform="translate(215.70,284.00) scale(1.0040,1)">OFF</text>
<text font-size="12.5" font-weight="bold" fill="#000" stroke="#000" stroke-width="0.3" transform="translate(322.00,323.90) scale(1.0543,1)">H<tspan font-size="7.75" baseline-shift="-3.25">2</tspan>O &amp; SO<tspan font-size="7.75" baseline-shift="-3.25">2</tspan> ON</text>
<text font-size="12.5" font-weight="bold" fill="#000" stroke="#000" stroke-width="0.3" transform="translate(438.00,323.40) scale(1.0759,1)">H<tspan font-size="7.75" baseline-shift="-3.25">2</tspan>O &amp; SO<tspan font-size="7.75" baseline-shift="-3.25">2</tspan> OFF</text>
<text font-size="11" font-weight="bold" fill="#111111" stroke="#111111" stroke-width="0.3" transform="translate(400.10,109.40) scale(0.9965,1)">MnCe@CNTs-R</text>
<text font-size="11" font-weight="bold" fill="#f52a2a" stroke="#f52a2a" stroke-width="0.3" transform="translate(400.10,123.85) scale(0.9921,1)">MnCe/CNTs-I</text>
<text font-size="11" font-weight="bold" fill="#2c4fa3" stroke="#2c4fa3" stroke-width="0.3" transform="translate(400.10,138.30) scale(0.9940,1)">MnCe/CNTs-M</text>
<text font-size="11" font-weight="bold" fill="#111111" stroke="#111111" stroke-width="0.3" transform="translate(132.10,299.70) scale(0.9862,1)">MnCe@CNTs-R</text>
<text font-size="11" font-weight="bold" fill="#f52a2a" stroke="#f52a2a" stroke-width="0.3" transform="translate(132.10,313.70) scale(0.9801,1)">MnCe/CNTs-I</text>
<text font-size="11" font-weight="bold" fill="#2c4fa3" stroke="#2c4fa3" stroke-width="0.3" transform="translate(132.10,327.70) scale(0.9775,1)">MnCe/CNTs-M</text>
</svg></body></html>
